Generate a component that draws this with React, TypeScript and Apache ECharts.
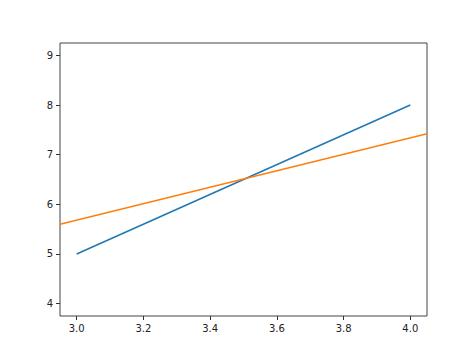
import React, { useEffect, useRef } from "react";
import * as echarts from "echarts";

const blueX = [3.0, 4.0];
const blueY = [5.0, 8.0];
const orangeX = [2.95, 4.05];
const orangeY = [5.6, 7.42];
const xTicks = [3.0, 3.2, 3.4, 3.6, 3.8, 4.0];
const yTicks = [4, 5, 6, 7, 8, 9];

export default function App() {
  const ref = useRef<HTMLDivElement>(null);
  useEffect(() => {
    document.body.style.margin = "0";
    const chart = echarts.init(ref.current!, null, { renderer: "svg" });
    const font = "DejaVu Sans";
    chart.setOption({
      animation: false,
      backgroundColor: "#ffffff",
      grid: {
        left: 60,
        top: 43,
        width: 367,
        height: 273,
        show: true,
        borderColor: "#444",
        borderWidth: 1,
        backgroundColor: "transparent",
      },
      xAxis: {
        type: "value",
        min: 2.95,
        max: 4.05,
        axisLine: { show: false },
        splitLine: { show: false },
        axisTick: { show: true, length: 4, lineStyle: { color: "#333" }, customValues: xTicks },
        axisLabel: {
          customValues: xTicks,
          formatter: (v: number) => v.toFixed(1),
          color: "#222",
          fontFamily: font,
          fontSize: 10,
          margin: 7,
        },
      },
      yAxis: {
        type: "value",
        min: 3.75,
        max: 9.25,
        axisLine: { show: false },
        splitLine: { show: false },
        axisTick: { show: true, length: 4, lineStyle: { color: "#333" }, customValues: yTicks },
        axisLabel: {
          customValues: yTicks,
          formatter: (v: number) => String(v),
          color: "#222",
          fontFamily: font,
          fontSize: 10,
          margin: 7,
        },
      },
      series: [
        {
          type: "line",
          data: blueX.map((x, i) => [x, blueY[i]]),
          showSymbol: false,
          lineStyle: { color: "#1f77b4", width: 1.5 },
          clip: true,
        },
        {
          type: "line",
          data: orangeX.map((x, i) => [x, orangeY[i]]),
          showSymbol: false,
          lineStyle: { color: "#ff7f0e", width: 1.5 },
          clip: true,
        },
      ],
    });
    return () => chart.dispose();
  }, []);
  return <div ref={ref} style={{ width: 474, height: 355 }} />;
}
